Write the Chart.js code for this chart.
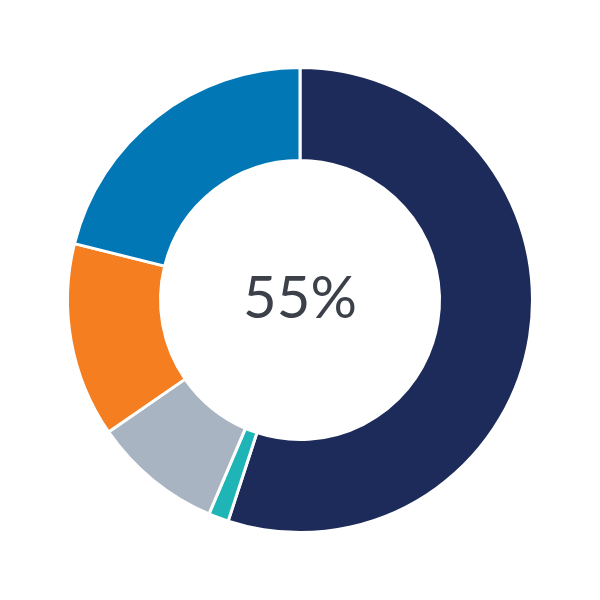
<!DOCTYPE html>
<html>
<head>
<meta charset="utf-8">
<script src="https://cdn.jsdelivr.net/npm/chart.js@4"></script>
<style>
  html, body { margin: 0; padding: 0; background: #fff; }
  #wrap { position: relative; width: 600px; height: 600px; }
  #center-label {
    position: absolute; left: 0; top: -5px; width: 600px; height: 600px;
    display: flex; align-items: center; justify-content: center;
    font-family: Lato, sans-serif; font-size: 58px; color: #3b4049;
    pointer-events: none;
  }
</style>
</head>
<body>
<div id="wrap">
  <canvas id="donutChart" width="600" height="600"></canvas>
  <div id="center-label">55%</div>
</div>
<script>
const labels = ['Segment A', 'Segment B', 'Segment C', 'Segment D', 'Segment E'];
const values = [55, 1.4, 9, 13.5, 21.1];
const colors = ['#1c2b5a', '#1fb5b6', '#a9b4c2', '#f47e20', '#0277b5'];

const ctx = document.getElementById('donutChart').getContext('2d');
const donutChart = new Chart(ctx, {
    type: 'doughnut',
    data: {
        labels: labels,
        datasets: [{
            data: values,
            backgroundColor: colors,
            borderColor: '#ffffff',
            borderWidth: 3
        }]
    },
    options: {
        responsive: false,
        animation: false,
        cutout: '60%',
        layout: { padding: 66 },
        plugins: {
            legend: { display: false },
            tooltip: { enabled: false }
        }
    }
});
</script>
</body>
</html>
